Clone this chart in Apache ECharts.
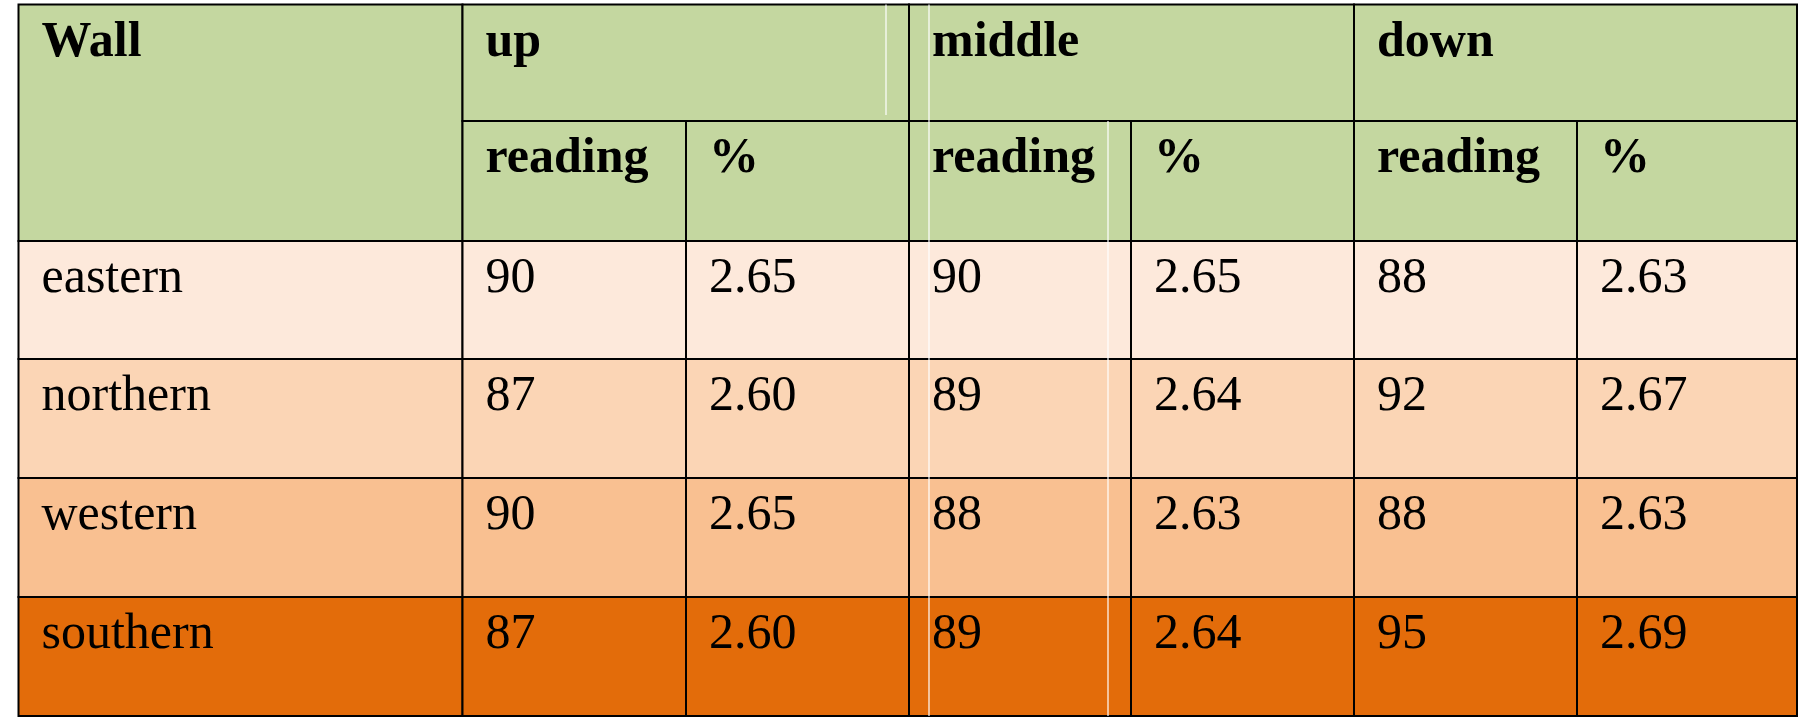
<!DOCTYPE html>
<html><head><meta charset="utf-8">
<script src="https://cdn.jsdelivr.net/npm/echarts@6/dist/echarts.min.js"></script>
<style>html,body{margin:0;padding:0;background:#fff}#c{width:1806px;height:723px}</style>
</head><body><div id="c"></div>
<script>
const walls = ['eastern','northern','western','southern'];
const positions = ['up','middle','down'];
const subHeaders = ['reading','%'];
const upReading = [90,87,90,87];
const upPct = ['2.65','2.60','2.65','2.60'];
const middleReading = [90,89,88,89];
const middlePct = ['2.65','2.64','2.63','2.64'];
const downReading = [88,92,88,95];
const downPct = ['2.63','2.67','2.63','2.69'];

const colX = [18.5,462.5,686,909,1131,1354,1577,1797];
const rowY = [4.6,121,241,359,478,597,716];
const rowColors = ['#fde9db','#fbd5b5','#f9c091','#e36c0a'];
const headColor = '#c4d7a0';
const FONT = '"Liberation Serif","Times New Roman",serif';

const cols = [upReading,upPct,middleReading,middlePct,downReading,downPct];
const cells = [];
// header cells: [x0,y0,x1,y1,text,bold,fill]
cells.push([colX[0],rowY[0],colX[1],rowY[2],'Wall',1,headColor]);
positions.forEach((p,i)=>{
  cells.push([colX[1+2*i],rowY[0],colX[3+2*i],rowY[1],p,1,headColor]);
  subHeaders.forEach((s,j)=>cells.push([colX[1+2*i+j],rowY[1],colX[2+2*i+j],rowY[2],s,1,headColor]));
});
walls.forEach((w,r)=>{
  cells.push([colX[0],rowY[2+r],colX[1],rowY[3+r],w,0,rowColors[r]]);
  cols.forEach((c,k)=>cells.push([colX[1+k],rowY[2+r],colX[2+k],rowY[3+r],String(c[r]),0,rowColors[r]]));
});
const whiteLines = [[886,rowY[0],886,rowY[1]-6],[929,rowY[0],929,rowY[6]],[1108,rowY[1],1108,rowY[6]]];

const chart = echarts.init(document.getElementById('c'));
chart.setOption({
  animation:false,
  grid:{left:0,right:0,top:0,bottom:0},
  xAxis:{type:'value',min:0,max:1806,show:false},
  yAxis:{type:'value',min:0,max:723,inverse:true,show:false},
  series:[{
    type:'custom',coordinateSystem:'cartesian2d',data:cells,
    renderItem:(params,api)=>{
      const d = cells[params.dataIndex];
      const p0 = api.coord([d[0],d[1]]), p1 = api.coord([d[2],d[3]]);
      return {type:'group',children:[
        {type:'rect',shape:{x:p0[0],y:p0[1],width:p1[0]-p0[0],height:p1[1]-p0[1]},
          style:{fill:d[6],stroke:'#000',lineWidth:2}},
        {type:'text',z2:10,style:{x:p0[0]+23,y:p0[1]+13,text:d[4],fill:'#000',
          font:(d[5]?'bold ':'')+'50px '+FONT,verticalAlign:'top',align:'left'}}
      ]};
    }
  },{
    type:'custom',coordinateSystem:'cartesian2d',data:whiteLines,z:5,
    renderItem:(params,api)=>{
      const d = whiteLines[params.dataIndex];
      const a = api.coord([d[0],d[1]]), b = api.coord([d[2],d[3]]);
      return {type:'line',shape:{x1:a[0],y1:a[1],x2:b[0],y2:b[1]},style:{stroke:'#fff',lineWidth:1.2}};
    }
  }]
});
</script></body></html>
